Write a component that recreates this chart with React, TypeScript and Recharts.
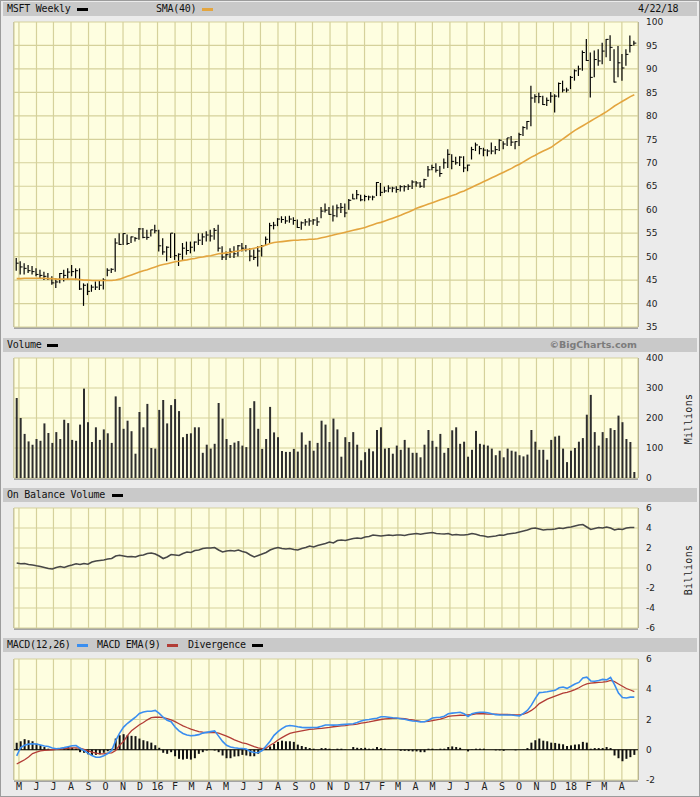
import React from 'react';
import { ComposedChart, Bar, Line, XAxis, YAxis, CartesianGrid, ReferenceLine } from 'recharts';

// weekly bars, week 0 = week of Apr 27 2015, last = partial week of Apr 23 2018
const START = Date.UTC(2015, 3, 27);
const WEEK = 7 * 24 * 3600 * 1000;

const monthLabels = [
  'M', 'J', 'J', 'A', 'S', 'O', 'N', 'D', '16', 'F', 'M', 'A',
  'M', 'J', 'J', 'A', 'S', 'O', 'N', 'D', '17', 'F', 'M', 'A',
  'M', 'J', 'J', 'A', 'S', 'O', 'N', 'D', '18', 'F', 'M', 'A',
];

const priceHigh = [
  49.7, 49.0, 48.6, 48.2, 48.0, 47.5, 47.2, 46.8, 46.5, 45.8,
  45.4, 46.5, 47.2, 47.5, 48.2, 47.5, 47.5, 44.3, 44.3, 44.0,
  44.7, 45.0, 45.4, 47.5, 47.5, 53.9, 55.0, 55.0, 54.7, 54.3,
  54.2, 56.1, 56.1, 55.7, 55.7, 56.8, 55.7, 53.9, 52.2, 55.0,
  55.0, 50.7, 52.9, 53.2, 53.2, 53.2, 55.0, 55.0, 55.4, 55.7,
  56.1, 56.8, 52.2, 51.1, 51.8, 52.2, 52.5, 52.9, 52.5, 51.8,
  51.5, 52.2, 52.5, 54.3, 57.2, 57.4, 58.2, 58.6, 58.6, 58.7,
  58.4, 57.9, 57.5, 58.0, 58.2, 58.0, 58.4, 60.6, 61.3, 60.6,
  60.9, 61.1, 61.4, 61.3, 62.3, 63.4, 64.2, 63.2, 63.2, 63.0,
  63.0, 65.9, 65.7, 64.9, 65.2, 64.9, 65.0, 65.2, 65.2, 65.4,
  66.3, 66.1, 65.9, 66.6, 69.3, 69.6, 69.9, 69.3, 70.9, 72.9,
  71.8, 71.3, 71.4, 71.4, 69.6, 73.4, 74.3, 73.6, 73.2, 72.9,
  74.3, 73.6, 75.0, 74.6, 75.3, 75.7, 74.6, 76.4, 77.8, 78.9,
  86.4, 84.6, 84.9, 84.3, 83.9, 85.1, 84.6, 87.1, 87.5, 86.0,
  88.5, 89.9, 90.7, 93.9, 96.4, 93.5, 93.9, 94.2, 95.6, 96.4,
  97.2, 94.2, 94.9, 93.2, 94.2, 97.1, 96.0,
];

const priceLow = [
  47.0, 46.2, 46.2, 46.5, 46.2, 45.8, 45.4, 45.0, 45.0, 44.0,
  43.3, 44.3, 44.7, 45.0, 45.8, 45.0, 42.9, 39.5, 41.8, 42.5,
  42.9, 42.9, 43.0, 45.8, 46.5, 46.8, 52.5, 52.5, 52.5, 52.9,
  53.2, 53.6, 53.9, 53.6, 54.3, 55.0, 51.1, 50.4, 49.0, 49.7,
  49.3, 48.0, 49.3, 50.4, 50.7, 51.1, 52.5, 52.5, 53.2, 53.2,
  53.6, 51.1, 49.3, 49.3, 49.7, 49.7, 50.0, 51.1, 51.1, 49.0,
  49.3, 47.9, 50.0, 52.5, 52.9, 55.8, 56.5, 57.2, 57.0, 57.2,
  56.8, 56.1, 55.7, 56.6, 56.6, 56.8, 56.5, 58.2, 59.4, 58.9,
  57.5, 58.4, 59.3, 58.4, 60.0, 62.2, 62.2, 61.8, 61.8, 62.0,
  62.0, 62.9, 62.9, 63.6, 63.7, 63.7, 63.6, 63.9, 63.9, 64.2,
  64.4, 64.9, 64.7, 64.7, 67.0, 68.4, 67.9, 67.0, 68.7, 68.9,
  68.6, 69.6, 69.3, 68.0, 68.2, 70.7, 72.5, 71.8, 71.4, 71.4,
  71.8, 71.8, 72.5, 72.9, 73.6, 73.6, 72.9, 73.6, 75.7, 77.1,
  77.8, 82.8, 82.7, 82.3, 82.1, 82.8, 80.7, 83.9, 85.0, 85.0,
  85.7, 87.5, 88.5, 89.6, 91.7, 83.9, 88.2, 90.7, 91.0, 92.5,
  91.7, 87.1, 88.2, 87.5, 90.7, 93.5, 95.0,
];

const priceClose = [
  48.6, 47.8, 47.5, 47.0, 46.8, 46.2, 46.0, 45.8, 45.3, 44.4,
  44.6, 46.4, 46.0, 46.7, 46.8, 47.0, 43.1, 43.9, 42.6, 43.5,
  43.5, 43.9, 45.0, 47.1, 47.3, 52.9, 52.6, 54.9, 52.8, 54.2,
  53.9, 55.9, 54.1, 54.1, 55.7, 55.5, 52.3, 51.0, 52.0, 55.0,
  50.2, 50.5, 51.8, 51.3, 52.0, 53.1, 53.5, 54.2, 54.6, 54.4,
  55.6, 51.8, 49.9, 50.4, 51.1, 50.6, 52.3, 51.8, 51.5, 50.1,
  49.8, 51.2, 52.3, 53.7, 56.6, 56.7, 58.0, 57.9, 57.6, 58.0,
  57.7, 56.2, 57.2, 57.4, 57.6, 57.8, 57.4, 59.7, 59.9, 59.0,
  58.7, 60.4, 60.5, 59.3, 62.0, 62.3, 63.2, 62.1, 62.8, 62.7,
  62.7, 65.8, 63.7, 64.0, 64.6, 64.6, 64.3, 64.9, 64.9, 65.0,
  65.9, 65.7, 65.0, 66.4, 68.5, 69.0, 68.4, 67.7, 70.0, 71.8,
  70.3, 70.0, 71.2, 68.9, 69.5, 72.8, 73.8, 73.0, 72.7, 72.5,
  72.5, 72.8, 74.8, 74.0, 75.3, 74.4, 74.5, 76.0, 77.5, 78.8,
  83.8, 84.1, 84.1, 82.4, 83.3, 84.2, 84.2, 86.9, 85.5, 85.5,
  88.2, 89.6, 90.0, 93.5, 91.8, 88.2, 92.0, 91.7, 93.8, 96.3,
  94.6, 87.2, 91.3, 90.2, 93.1, 95.0, 95.5,
];

const sma40 = [
  45.3, 45.3, 45.4, 45.4, 45.4, 45.4, 45.4, 45.4, 45.3, 45.3,
  45.2, 45.2, 45.2, 45.2, 45.2, 45.2, 45.1, 45.0, 45.0, 44.9,
  44.9, 44.9, 44.9, 44.9, 44.9, 45.0, 45.2, 45.5, 45.8, 46.1,
  46.4, 46.7, 47.0, 47.2, 47.5, 47.8, 48.1, 48.3, 48.5, 48.7,
  48.9, 49.0, 49.2, 49.3, 49.5, 49.6, 49.8, 49.9, 50.1, 50.2,
  50.4, 50.6, 50.7, 50.8, 50.9, 51.1, 51.2, 51.4, 51.5, 51.6,
  51.8, 52.0, 52.2, 52.5, 52.8, 53.0, 53.1, 53.2, 53.3, 53.4,
  53.5, 53.5, 53.6, 53.6, 53.7, 53.7, 53.8, 54.0, 54.2, 54.4,
  54.6, 54.8, 55.0, 55.2, 55.4, 55.6, 55.8, 56.0, 56.2, 56.5,
  56.8, 57.1, 57.3, 57.6, 57.9, 58.2, 58.5, 58.8, 59.2, 59.5,
  59.9, 60.3, 60.6, 60.9, 61.2, 61.5, 61.8, 62.1, 62.4, 62.7,
  63.0, 63.3, 63.7, 64.0, 64.4, 64.8, 65.2, 65.6, 66.0, 66.4,
  66.8, 67.2, 67.6, 68.0, 68.4, 68.8, 69.3, 69.7, 70.2, 70.7,
  71.2, 71.6, 72.1, 72.5, 72.9, 73.3, 73.9, 74.5, 75.1, 75.7,
  76.3, 76.9, 77.4, 77.9, 78.4, 78.9, 79.4, 79.9, 80.4, 80.9,
  81.5, 82.1, 82.6, 83.1, 83.6, 84.1, 84.5,
];

// millions of shares
const volume = [
  267, 200, 147, 122, 111, 130, 124, 182, 150, 117,
  153, 130, 194, 183, 127, 124, 178, 298, 186, 120,
  169, 127, 162, 149, 117, 272, 237, 164, 191, 156,
  81, 220, 169, 247, 100, 98, 227, 260, 182, 243,
  263, 223, 136, 147, 149, 169, 169, 84, 111, 98,
  114, 250, 198, 130, 110, 118, 123, 108, 103, 233,
  256, 164, 97, 130, 237, 152, 136, 90, 87, 87,
  97, 88, 152, 111, 124, 91, 117, 191, 178, 120,
  198, 162, 71, 136, 120, 153, 111, 59, 86, 98,
  89, 160, 169, 98, 100, 81, 108, 94, 127, 101,
  84, 84, 69, 111, 160, 124, 104, 147, 84, 100,
  159, 169, 114, 121, 71, 94, 157, 114, 111, 108,
  98, 76, 91, 69, 98, 91, 88, 76, 72, 78,
  160, 121, 94, 94, 61, 127, 138, 141, 98, 53,
  91, 100, 121, 133, 211, 277, 153, 108, 153, 133,
  166, 160, 208, 186, 130, 120, 20,
];

// billions
const obv = [
  0.5, 0.42, 0.45, 0.35, 0.3, 0.22, 0.15, 0.05, -0.05, -0.1,
  0.05, 0.15, 0.05, 0.2, 0.3, 0.42, 0.35, 0.45, 0.38, 0.6,
  0.7, 0.75, 0.8, 0.9, 0.95, 1.2, 1.28, 1.2, 1.12, 1.15,
  1.1, 1.25, 1.3, 1.45, 1.5, 1.4, 1.2, 0.95, 1.1, 1.35,
  1.3, 1.25, 1.45, 1.6, 1.55, 1.75, 1.8, 1.95, 2.0, 2.0,
  2.05, 1.8, 1.6, 1.7, 1.75, 1.7, 1.8, 1.65, 1.55, 1.3,
  1.1, 1.25, 1.4, 1.55, 1.8, 1.95, 2.05, 1.95, 1.9, 1.95,
  1.85, 1.8, 1.95, 2.05, 2.2, 2.1, 2.25, 2.35, 2.45, 2.6,
  2.5, 2.75, 2.8, 2.75, 2.85, 2.95, 3.0, 2.95, 3.1, 3.15,
  3.3, 3.25, 3.2, 3.25, 3.3, 3.25, 3.3, 3.3, 3.25, 3.35,
  3.4, 3.45, 3.38, 3.45, 3.5, 3.55, 3.45, 3.42, 3.4, 3.45,
  3.3, 3.35, 3.3, 3.3, 3.35, 3.45, 3.38, 3.25, 3.2, 3.1,
  3.15, 3.2, 3.3, 3.28, 3.4, 3.45, 3.5, 3.6, 3.7, 3.8,
  3.95, 4.0, 3.9, 3.8, 3.85, 3.85, 3.9, 4.0, 3.95, 4.05,
  4.1, 4.2, 4.3, 4.35, 4.1, 3.85, 3.95, 4.05, 4.0, 4.1,
  4.0, 3.8, 3.9, 3.85, 4.0, 4.05, 4.05,
];

const macd = [
  -0.4, 0.15, 0.3, 0.37, 0.4, 0.38, 0.32, 0.25, 0.22, 0.12,
  0.07, 0.1, 0.14, 0.2, 0.26, 0.28, 0.1, -0.05, -0.22, -0.38,
  -0.5, -0.5, -0.4, -0.25, -0.05, 0.6, 1.1, 1.5, 1.75, 1.95,
  2.15, 2.4, 2.5, 2.55, 2.55, 2.6, 2.4, 2.15, 1.95, 1.85,
  1.5, 1.25, 1.08, 0.98, 0.93, 0.95, 1.0, 1.1, 1.15, 1.2,
  1.25, 0.9, 0.55, 0.3, 0.18, 0.13, 0.1, 0.08, 0.05, -0.12,
  -0.18, -0.2, -0.05, 0.25, 0.56, 0.95, 1.2, 1.4, 1.55, 1.6,
  1.57, 1.52, 1.48, 1.46, 1.46, 1.47, 1.48, 1.55, 1.64, 1.64,
  1.63, 1.64, 1.66, 1.68, 1.7, 1.72, 1.8, 1.9, 1.97, 2.0,
  2.05, 2.08, 2.18, 2.18, 2.15, 2.12, 2.1, 2.05, 2.02, 1.95,
  1.9, 1.88, 1.84, 1.85, 1.95, 2.1, 2.13, 2.15, 2.22, 2.38,
  2.42, 2.45, 2.48, 2.38, 2.2, 2.38, 2.45, 2.48, 2.48, 2.45,
  2.38, 2.32, 2.3, 2.3, 2.3, 2.3, 2.26, 2.24, 2.4, 2.6,
  2.95, 3.4, 3.78, 3.8, 3.83, 3.88, 3.93, 4.1, 4.15, 4.06,
  4.2, 4.35, 4.45, 4.75, 4.8, 4.55, 4.53, 4.58, 4.65, 4.62,
  4.78, 4.3, 3.75, 3.45, 3.42, 3.48, 3.48,
];

const macdEma = [
  -0.94, -0.8, -0.66, -0.48, -0.25, -0.15, -0.08, -0.04, -0.02, 0,
  0.02, 0.05, 0.07, 0.1, 0.13, 0.12, 0.1, 0.02, -0.08, -0.15,
  -0.22, -0.27, -0.27, -0.22, -0.2, -0.05, 0.3, 0.55, 0.95, 1.25,
  1.45, 1.65, 1.8, 1.98, 2.12, 2.15, 2.15, 2.12, 2.05, 1.97,
  1.86, 1.72, 1.58, 1.47, 1.37, 1.28, 1.2, 1.16, 1.14, 1.14,
  1.15, 1.1, 1.0, 0.9, 0.78, 0.65, 0.55, 0.46, 0.4, 0.3,
  0.2, 0.12, 0.07, 0.1, 0.3, 0.45, 0.65, 0.8, 0.95, 1.08,
  1.15, 1.2, 1.25, 1.3, 1.35, 1.37, 1.4, 1.41, 1.45, 1.48,
  1.52, 1.55, 1.58, 1.6, 1.64, 1.66, 1.7, 1.76, 1.8, 1.84,
  1.9, 1.95, 2.0, 2.04, 2.06, 2.08, 2.08, 2.07, 2.05, 2.0,
  1.97, 1.93, 1.88, 1.86, 1.88, 1.93, 1.97, 2.02, 2.1, 2.2,
  2.24, 2.26, 2.28, 2.27, 2.3, 2.33, 2.38, 2.38, 2.38, 2.36,
  2.35, 2.35, 2.34, 2.34, 2.33, 2.32, 2.31, 2.3, 2.35, 2.45,
  2.6, 2.8, 3.05, 3.2, 3.35, 3.45, 3.55, 3.65, 3.75, 3.8,
  3.88, 3.98, 4.1, 4.25, 4.35, 4.4, 4.43, 4.45, 4.47, 4.5,
  4.58, 4.5, 4.35, 4.2, 4.05, 3.95, 3.85,
];

const divergence = [
  0.47, 0.56, 0.7, 0.63, 0.56, 0.4, 0.3, 0.18, 0.07, 0.02,
  0.0, 0.1, 0.13, 0.18, 0.13, 0.07, -0.16, -0.2, -0.3, -0.38,
  -0.34, -0.3, -0.2, -0.1, 0.07, 0.74, 0.96, 1.03, 0.96, 0.92,
  0.9, 0.74, 0.63, 0.56, 0.47, 0.3, 0.13, -0.2, -0.27, -0.16,
  -0.43, -0.6, -0.65, -0.6, -0.65, -0.56, -0.27, -0.16, -0.05, 0.0,
  -0.05, -0.16, -0.38, -0.56, -0.56, -0.45, -0.43, -0.34, -0.38, -0.43,
  -0.43, -0.27, -0.04, 0.07, 0.22, 0.38, 0.52, 0.6, 0.56, 0.56,
  0.52, 0.34, 0.25, 0.18, 0.11, 0.07, 0.0, 0.11, 0.11, 0.07,
  0.02, 0.07, 0.07, 0.02, 0.0, 0.18, 0.13, 0.11, 0.13, 0.07,
  0.07, 0.18, 0.11, 0.07, 0.02, 0.0, 0.0, -0.07, -0.07, -0.09,
  -0.11, -0.11, -0.16, -0.16, 0.07, 0.07, 0.02, 0.07, 0.07, 0.18,
  0.22, 0.18, 0.13, 0.0, -0.11, 0.02, 0.07, 0.07, 0.07, 0.0,
  0.0, -0.04, -0.04, -0.07, 0.0, 0.0, -0.04, 0.0, 0.02, 0.11,
  0.47, 0.63, 0.74, 0.6, 0.56, 0.47, 0.45, 0.4, 0.36, 0.25,
  0.29, 0.34, 0.36, 0.52, 0.47, 0.07, 0.11, 0.11, 0.11, 0.18,
  0.11, -0.38, -0.56, -0.76, -0.6, -0.49, -0.34,
];

const priceTicks = [35, 40, 45, 50, 55, 60, 65, 70, 75, 80, 85, 90, 95, 100];
const volumeTicks = [0, 100, 200, 300, 400];
const obvTicks = [-6, -4, -2, 0, 2, 4, 6];
const macdTicks = [-2, 0, 2, 4, 6];

const monthTicks = monthLabels.map((_, i) => (Date.UTC(2015, 4 + i, 1) - START) / WEEK);

const rows = priceHigh.map((high, k) => ({
  k,
  high,
  low: priceLow[k],
  close: priceClose[k],
  sma: sma40[k],
  vol: volume[k],
  obv: obv[k],
  macd: macd[k],
  ema: macdEma[k],
  div: divergence[k],
}));

const X_DOMAIN: [number, number] = [-0.68, 156.93];
const GRID = '#d5d19b';
const PLOT_BG = '#fefee0';
const tickStyle = { fontSize: 9, fontFamily: 'DejaVu Sans', fill: '#222' };
const mono = '"DejaVu Sans Mono", monospace';

const OhlcBar = (props: any) => {
  const { x, y, width, height, payload } = props;
  if (x == null || y == null) return null;
  const top = Math.min(y, y + height);
  const h = Math.abs(height);
  const cx = x + width / 2;
  const span = payload.high - payload.low || 1;
  const cy = top + (h * (payload.high - payload.close)) / span;
  return (
    <g>
      <line x1={cx} x2={cx} y1={top} y2={top + h} stroke="#000" strokeWidth={1.2} />
      <line x1={cx} x2={cx + 2.5} y1={cy} y2={cy} stroke="#000" strokeWidth={1} />
    </g>
  );
};

const TitleBar = ({ top, children }: { top: number; children: React.ReactNode }) => (
  <div style={{ position: 'absolute', left: 3, top, width: 694, height: 14, background: '#c9c9c9' }}>
    {children}
  </div>
);

const Label = ({ x, text, color = '#111', right = false, bold = false, sans = false }: any) => (
  <span
    style={{
      position: 'absolute',
      top: 0,
      ...(right ? { right: 700 - 3 - x } : { left: x - 3 }),
      lineHeight: '14px',
      fontSize: sans ? 9.5 : 10,
      fontFamily: sans ? 'DejaVu Sans' : mono,
      fontWeight: bold ? 'bold' : 'normal',
      letterSpacing: sans ? 0 : -0.25,
      color,
      whiteSpace: 'nowrap',
    }}
  >
    {text}
  </span>
);

const Swatch = ({ x, color }: { x: number; color: string }) => (
  <span style={{ position: 'absolute', left: x - 3, top: 6, width: 11, height: 3, background: color }} />
);

const PlotBg = ({ top, height }: { top: number; height: number }) => (
  <div
    style={{
      position: 'absolute',
      left: 14,
      top,
      width: 624,
      height,
      background: PLOT_BG,
      boxShadow: '-1px 0 0 #b4b4b4, 1px 0 0 #8c8c8c, 0 2px 0 #a4a4a4',
    }}
  />
);

const SideLabel = ({ y, text }: { y: number; text: string }) => (
  <div
    style={{
      position: 'absolute',
      left: 688,
      top: y,
      transform: 'translate(-50%, -50%) rotate(-90deg)',
      fontFamily: mono,
      fontSize: 10,
      letterSpacing: 0.3,
      color: '#222',
      whiteSpace: 'nowrap',
    }}
  >
    {text}
  </div>
);

// x axis for the upper panels: month ticks drive the vertical grid, labels left blank
const blankX = (
  <XAxis
    dataKey="k"
    type="number"
    domain={X_DOMAIN}
    ticks={monthTicks}
    interval={0}
    allowDataOverflow
    tickFormatter={() => ''}
    tick={{ fontSize: 1 }}
    tickSize={0}
    axisLine={false}
    tickLine={false}
    height={1}
  />
);

const rightY = (domain: [number, number], ticks: number[]) => (
  <YAxis
    orientation="right"
    width={50}
    domain={domain}
    ticks={ticks}
    interval={0}
    allowDataOverflow
    tick={tickStyle}
    tickSize={0}
    tickMargin={8}
    axisLine={false}
    tickLine={false}
  />
);

const margin = { top: 8, right: 12, bottom: 7, left: 14 };

export default function App() {
  return (
    <div
      style={{
        position: 'absolute',
        left: 0,
        top: 0,
        width: 700,
        height: 797,
        background: '#ebebeb',
        boxShadow: 'inset 0 0 0 1px #9c9c9c',
        overflow: 'hidden',
      }}
    >
      <TitleBar top={2}>
        <Label x={7} text="MSFT Weekly" />
        <Swatch x={77} color="#000" />
        <Label x={156} text="SMA(40)" />
        <Swatch x={202} color="#e3a53f" />
        <Label x={638} text="4/22/18" />
      </TitleBar>
      <TitleBar top={338}>
        <Label x={7} text="Volume" />
        <Swatch x={47} color="#000" />
        <Label x={637} text="©BigCharts.com" right bold sans color="#7c7c7c" />
      </TitleBar>
      <TitleBar top={488}>
        <Label x={7} text="On Balance Volume" />
        <Swatch x={112} color="#000" />
      </TitleBar>
      <TitleBar top={638}>
        <Label x={7} text="MACD(12,26)" />
        <Swatch x={77} color="#3a8ef0" />
        <Label x={97} text="MACD EMA(9)" />
        <Swatch x={167} color="#b23c36" />
        <Label x={188} text="Divergence" />
        <Swatch x={252} color="#000" />
      </TitleBar>

      <PlotBg top={22} height={305} />
      <PlotBg top={358} height={120} />
      <PlotBg top={508} height={120} />
      <PlotBg top={659} height={121} />

      <div style={{ position: 'absolute', left: 0, top: 14 }}>
        <ComposedChart width={700} height={321} data={rows} margin={margin}>
          <CartesianGrid stroke={GRID} strokeWidth={1.2} />
          {blankX}
          {rightY([35, 100], priceTicks)}
          <Line dataKey="sma" stroke="#e3a53f" strokeWidth={1.6} dot={false} activeDot={false} isAnimationActive={false} />
          <Bar
            dataKey={(d: any) => [d.low, d.high]}
            barSize={3}
            shape={(p: any) => <OhlcBar {...p} />}
            isAnimationActive={false}
          />
        </ComposedChart>
      </div>

      <div style={{ position: 'absolute', left: 0, top: 350 }}>
        <ComposedChart width={700} height={136} data={rows} margin={margin}>
          <CartesianGrid stroke={GRID} strokeWidth={1.2} />
          {blankX}
          {rightY([0, 400], volumeTicks)}
          <Bar dataKey="vol" barSize={2} fill="#2e2e2e" isAnimationActive={false} />
        </ComposedChart>
      </div>
      <SideLabel y={419} text="Millions" />

      <div style={{ position: 'absolute', left: 0, top: 500 }}>
        <ComposedChart width={700} height={136} data={rows} margin={margin}>
          <CartesianGrid stroke={GRID} strokeWidth={1.2} />
          {blankX}
          {rightY([-6, 6], obvTicks)}
          <Line dataKey="obv" stroke="#474747" strokeWidth={1.6} dot={false} activeDot={false} isAnimationActive={false} />
        </ComposedChart>
      </div>
      <SideLabel y={570} text="Billions" />

      <div style={{ position: 'absolute', left: 0, top: 651 }}>
        <ComposedChart width={700} height={145} data={rows} margin={{ top: 8, right: 12, bottom: 0, left: 14 }}>
          <CartesianGrid stroke={GRID} strokeWidth={1.2} />
          <XAxis
            dataKey="k"
            type="number"
            domain={X_DOMAIN}
            ticks={monthTicks}
            interval={0}
            allowDataOverflow
            tickFormatter={(_v: number, i: number) => monthLabels[i]}
            tick={{ fontSize: 10, fontFamily: mono, fill: '#222' }}
            tickSize={0}
            tickMargin={3}
            axisLine={false}
            tickLine={false}
            height={16}
          />
          {rightY([-2, 6], macdTicks)}
          <ReferenceLine y={0} stroke="#000" strokeWidth={1} />
          <Bar dataKey="div" barSize={2} fill="#111" isAnimationActive={false} />
          <Line dataKey="ema" stroke="#b23c36" strokeWidth={1.3} dot={false} activeDot={false} isAnimationActive={false} />
          <Line dataKey="macd" stroke="#3a8ef0" strokeWidth={1.6} dot={false} activeDot={false} isAnimationActive={false} />
        </ComposedChart>
      </div>
    </div>
  );
}
